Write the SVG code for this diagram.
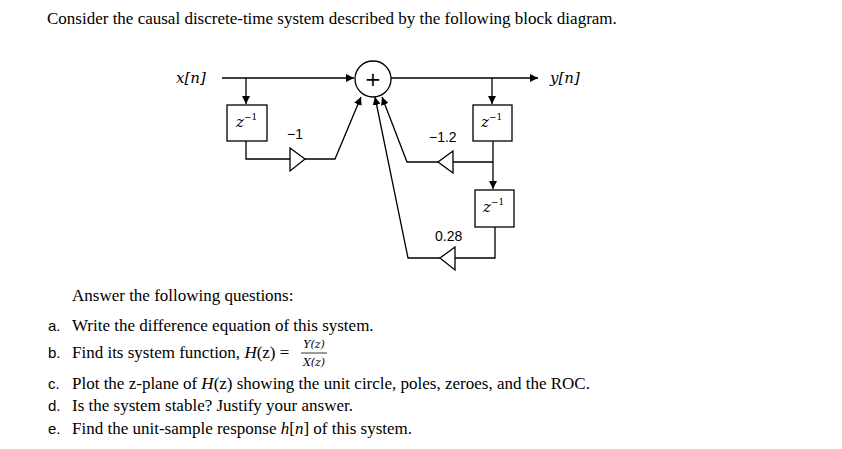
<svg xmlns="http://www.w3.org/2000/svg" width="842" height="449" viewBox="0 0 842 449">
<style>
.t{font-family:"Liberation Serif",serif;font-size:17px;fill:#000}
.s{font-family:"Liberation Sans",sans-serif;font-size:15px;fill:#000}
.m{font-family:"DejaVu Serif",serif;font-style:italic;font-size:15px;fill:#000}
.sm{font-family:"DejaVu Serif",serif;font-style:italic;font-size:11px}
.ln{fill:none;stroke:#000;stroke-width:1.3}
.bx{fill:#fff;stroke:#000;stroke-width:1.3}
</style>
<defs><marker id="a" viewBox="0 0 10 10" refX="10" refY="5" markerWidth="8" markerHeight="8" markerUnits="userSpaceOnUse" orient="auto"><path d="M0,0L10,5L0,10z" fill="#000"/></marker></defs>
<rect width="842" height="449" fill="#fff"/>
<text class="t" x="47" y="24">Consider the causal discrete-time system described by the following block diagram.</text>
<g id="connectors" class="ln">
<path d="M222,78H354" marker-end="url(#a)"/>
<path d="M391,78H538" marker-end="url(#a)"/>
<path d="M246,78V104" marker-end="url(#a)"/>
<path d="M246,141V159H290M305,159H335L361,97" marker-end="url(#a)"/>
<path d="M492,78V104" marker-end="url(#a)"/>
<path d="M493,141V189" marker-end="url(#a)"/>
<path d="M493,162H453M438,162H407L382,97" marker-end="url(#a)"/>
<path d="M495,227V258H455M440,258H408L375,97" marker-end="url(#a)"/>
</g>
<g id="sum"><circle cx="373" cy="79" r="18" class="bx"/><text x="373" y="86" text-anchor="middle" font-family="DejaVu Sans,sans-serif" font-size="20">+</text></g>
<g id="delay1"><rect x="227" y="105" width="40" height="36" class="bx"/><text class="m" x="236" y="127" font-size="13">z<tspan font-size="9" dy="-7" font-style="normal">−1</tspan></text></g>
<g id="delay2"><rect x="473" y="105" width="39" height="36" class="bx"/><text class="m" x="481" y="127" font-size="13">z<tspan font-size="9" dy="-7" font-style="normal">−1</tspan></text></g>
<g id="delay3"><rect x="475" y="190" width="39" height="37" class="bx"/><text class="m" x="483" y="212" font-size="13">z<tspan font-size="9" dy="-7" font-style="normal">−1</tspan></text></g>
<g id="gain1"><path d="M290,148L305,159L290,171z" class="bx"/><text x="287" y="139" font-family="Liberation Sans,sans-serif" font-size="14">−1</text></g>
<g id="gain2"><path d="M453,151L438,162L453,173z" class="bx"/><text x="429" y="142" font-family="Liberation Sans,sans-serif" font-size="14">−1.2</text></g>
<g id="gain3"><path d="M455,247L440,258L455,270z" class="bx"/><text x="435" y="241" font-family="Liberation Sans,sans-serif" font-size="14">0.28</text></g>
<text class="m" x="176" y="83">x[n]</text>
<text class="m" x="550" y="83">y[n]</text>
<text class="t" x="72" y="301">Answer the following questions:</text>
<text class="s" x="48" y="331">a.</text><text class="t" x="72" y="331">Write the difference equation of this system.</text>
<text class="s" x="48" y="358">b.</text><text class="t" x="72" y="358">Find its system function, <tspan font-style="italic">H</tspan>(z) =</text>
<text class="sm" x="314" y="348" text-anchor="middle">Y(z)</text>
<line x1="301" y1="353" x2="327" y2="353" stroke="#000" stroke-width="0.8"/>
<text class="sm" x="314" y="366" text-anchor="middle">X(z)</text>
<text class="s" x="48" y="389">c.</text><text class="t" x="72" y="389">Plot the z-plane of <tspan font-style="italic">H</tspan>(z) showing the unit circle, poles, zeroes, and the ROC.</text>
<text class="s" x="48" y="411">d.</text><text class="t" x="72" y="411">Is the system stable? Justify your answer.</text>
<text class="s" x="48" y="434">e.</text><text class="t" x="72" y="434">Find the unit-sample response <tspan font-style="italic">h</tspan>[<tspan font-style="italic">n</tspan>] of this system.</text>
</svg>
